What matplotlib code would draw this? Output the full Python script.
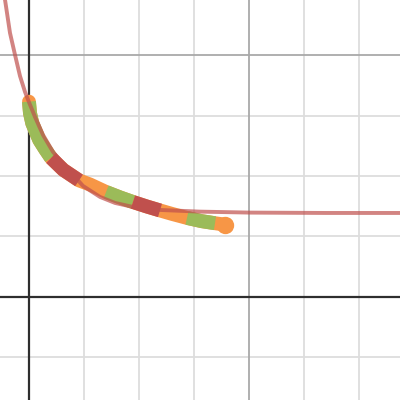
import matplotlib
matplotlib.use("Agg")
import matplotlib.pyplot as plt

# thin curve
thin_x = [-0.24, -0.221, -0.176, -0.130, -0.085, -0.039, 0.000, 0.052, 0.125, 0.216,
          0.343, 0.489, 0.644, 0.781, 0.944, 1.190, 1.555, 2.010, 2.700, 3.450]
thin_y = [2.55, 2.460, 2.187, 2.004, 1.830, 1.697, 1.606, 1.490, 1.341, 1.200,
          1.067, 0.918, 0.827, 0.777, 0.744, 0.719, 0.705, 0.697, 0.694, 0.694]

# thick multicoloured curve
thick_x = [-0.003, 0.006, 0.027, 0.091, 0.143, 0.198, 0.310, 0.453, 0.553, 0.699,
           0.826, 0.944, 1.069, 1.190, 1.300, 1.436, 1.570, 1.691, 1.782]
thick_y = [1.617, 1.523, 1.438, 1.299, 1.224, 1.150, 1.051, 0.964, 0.930, 0.868,
           0.823, 0.785, 0.748, 0.715, 0.686, 0.653, 0.626, 0.609, 0.597]
# (start index, end index, colour) of the pieces lying over the orange base
pieces = [(0, 5, "#9bbb59"), (5, 7, "#c0504d"), (9, 11, "#9bbb59"),
          (11, 13, "#c0504d"), (15, 17, "#9bbb59")]

x_minor = [-0.5, 0.5, 1.0, 1.5, 2.5, 3.0]
x_major = [2.0]
y_minor = [-0.5, 0.5, 1.0, 1.5]
y_major = [2.0]

fig = plt.figure(figsize=(4, 4), dpi=100)
ax = fig.add_axes([0, 0, 1, 1])
ax.set_xlim(-0.267, 3.376)
ax.set_ylim(-0.857, 2.460)
ax.axis("off")

for v in x_minor:
    ax.axvline(v, color="#dddddd", lw=1.3, zorder=0)
for v in y_minor:
    ax.axhline(v, color="#dddddd", lw=1.3, zorder=0)
for v in x_major:
    ax.axvline(v, color="#a9a9a9", lw=1.3, zorder=0)
for v in y_major:
    ax.axhline(v, color="#a9a9a9", lw=1.3, zorder=0)
ax.axvline(0, color="#2e2e2e", lw=1.6, zorder=1)
ax.axhline(0, color="#2e2e2e", lw=1.6, zorder=1)

ax.plot(thick_x, thick_y, color="#f79646", lw=10, solid_capstyle="round",
        solid_joinstyle="round", zorder=2)
ax.plot(thick_x[-1:], thick_y[-1:], "o", color="#f79646", ms=12.5, mew=0, zorder=2)
for i0, i1, c in pieces:
    ax.plot(thick_x[i0:i1 + 1], thick_y[i0:i1 + 1], color=c, lw=10,
            solid_capstyle="butt", solid_joinstyle="round", zorder=3)

ax.plot(thin_x, thin_y, color="#c0504d", alpha=0.7, lw=2.8,
        solid_joinstyle="round", zorder=4)

fig.savefig("out.png", dpi=100)
